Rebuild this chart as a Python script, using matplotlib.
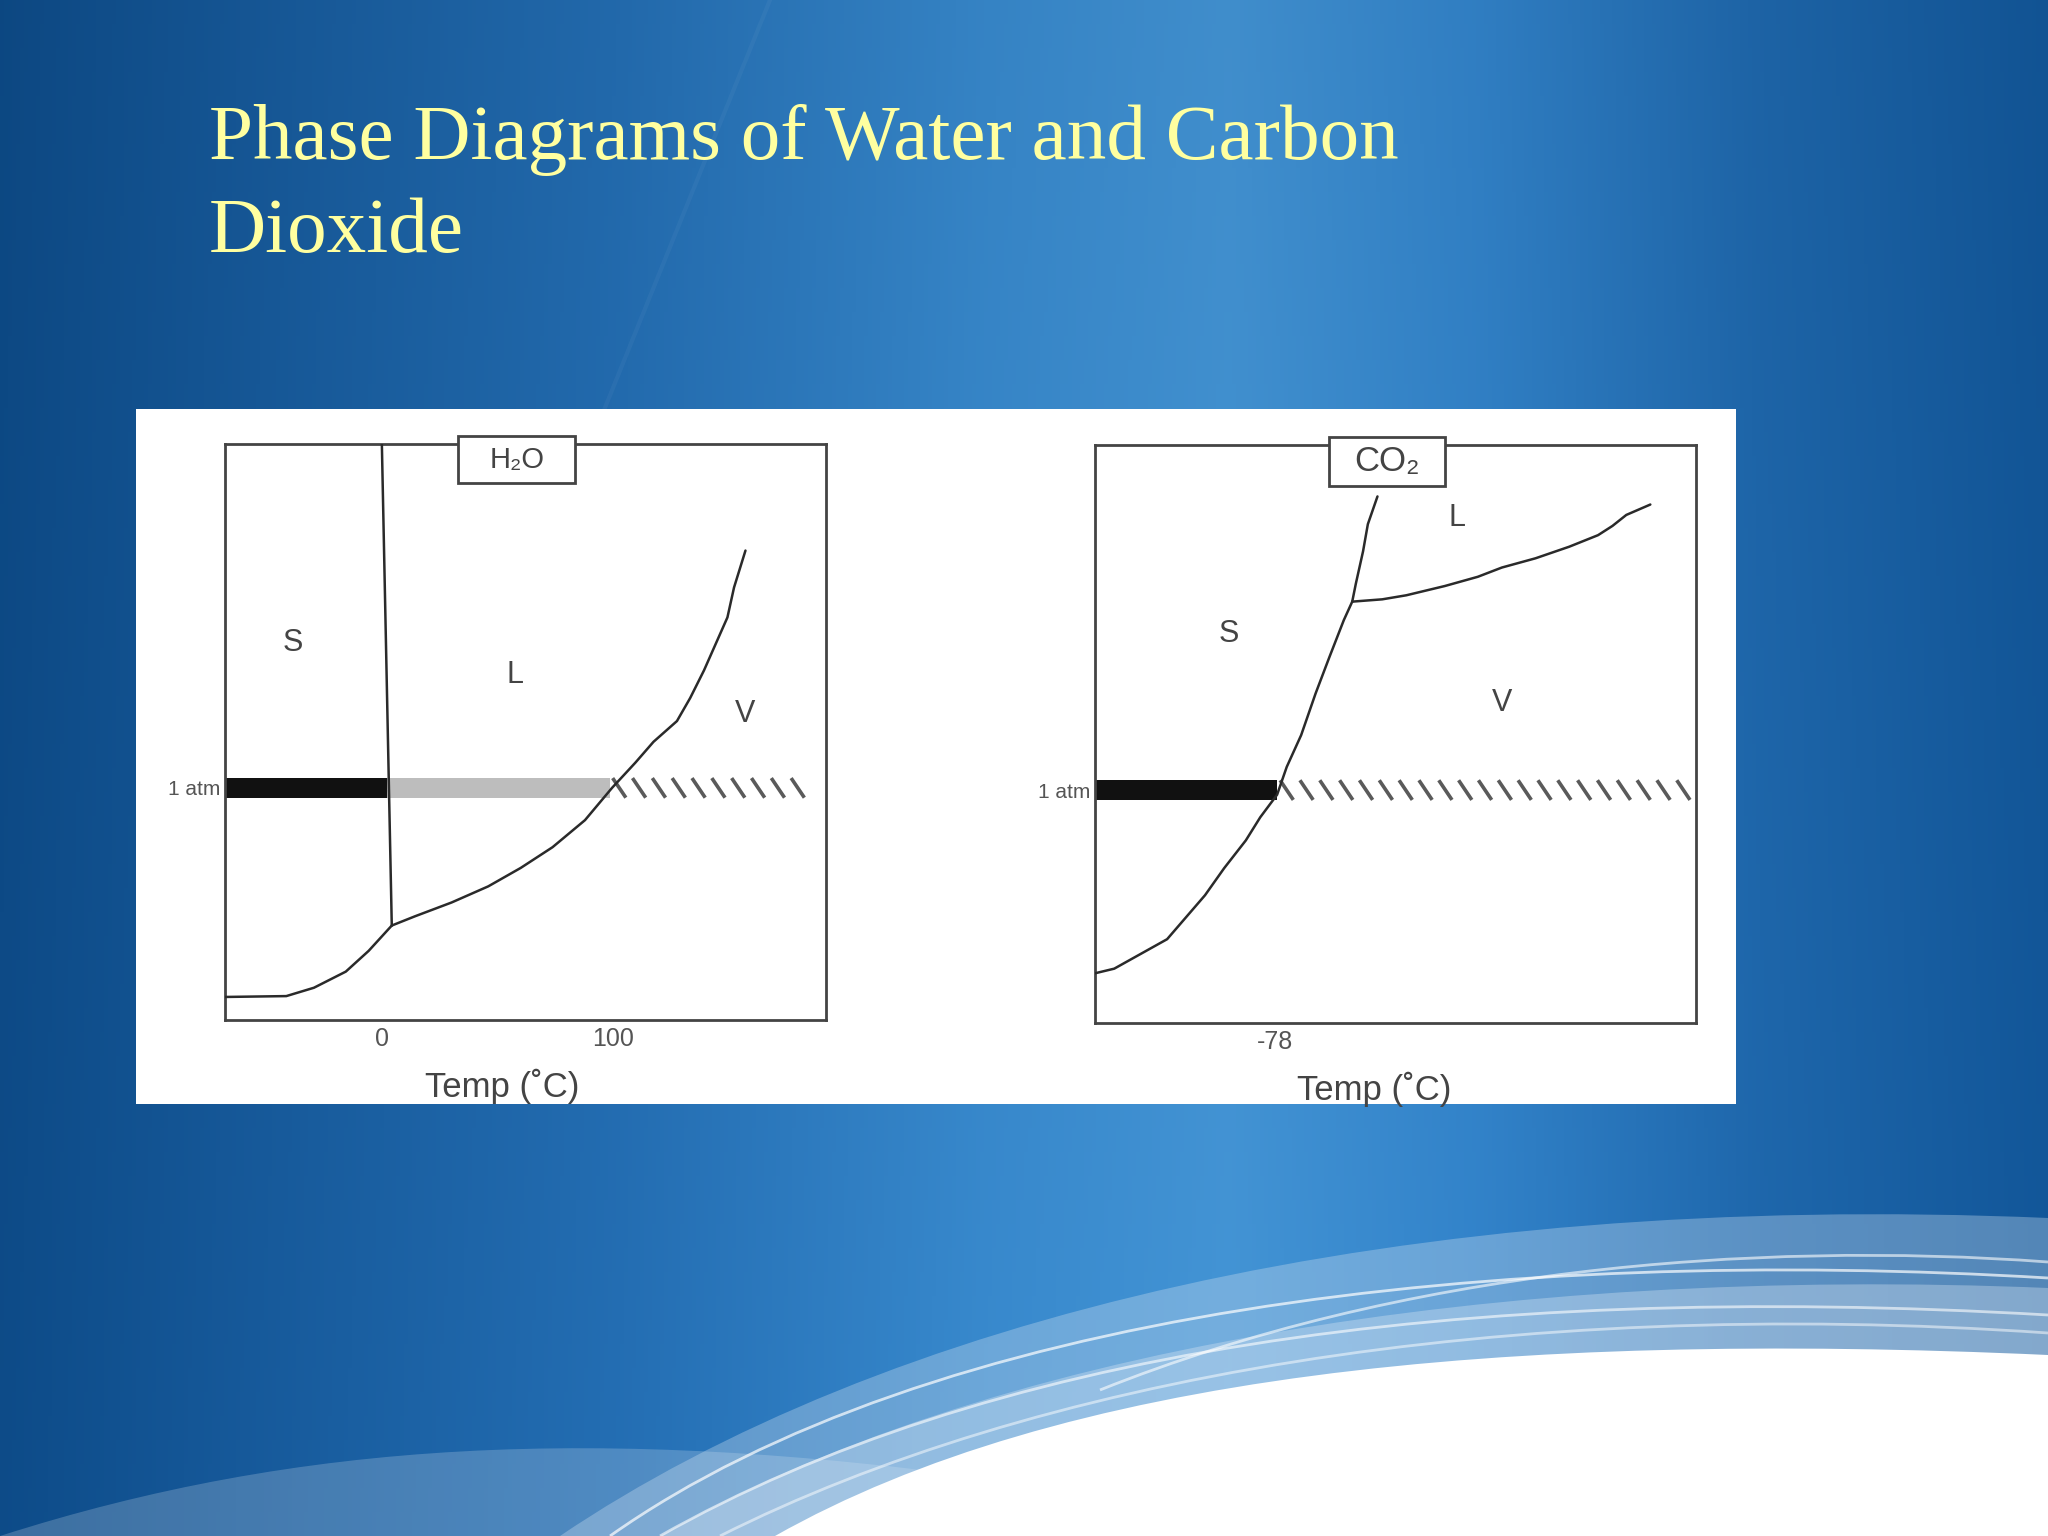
import numpy as np
import matplotlib
matplotlib.use("Agg")
import matplotlib.pyplot as plt
from matplotlib.patches import Rectangle, PathPatch
from matplotlib.path import Path
from matplotlib.collections import LineCollection

plt.rcParams['font.family'] = ['Liberation Sans', 'DejaVu Sans']

# ---------------- data (normalised diagram coordinates, 0..1) ----------------
title_lines = ["Phase Diagrams of Water and Carbon", "Dioxide"]

# H2O diagram
h2o_melt_x = [0.261, 0.2775]
h2o_melt_y = [1.0, 0.164]
h2o_subl_x = [0.0, 0.102, 0.148, 0.201, 0.239, 0.2775]
h2o_subl_y = [0.040, 0.0415, 0.056, 0.084, 0.120, 0.164]
h2o_vap_x = [0.2775, 0.316, 0.377, 0.438, 0.492, 0.545, 0.599, 0.644, 0.683,
             0.713, 0.752, 0.774, 0.797, 0.836, 0.847, 0.866]
h2o_vap_y = [0.164, 0.180, 0.204, 0.232, 0.264, 0.300, 0.347, 0.403, 0.447,
             0.483, 0.519, 0.559, 0.607, 0.699, 0.751, 0.815]
h2o_atm = 0.403
h2o_solid_seg = [0.0, 0.270]
h2o_liquid_seg = [0.270, 0.640]
h2o_vapor_seg = [0.640, 0.995]
h2o_labels = ["S", "L", "V"]
h2o_label_x = [0.113, 0.482, 0.866]
h2o_label_y = [0.655, 0.599, 0.531]
h2o_ticks = [0.261, 0.645]
h2o_ticklabels = ["0", "100"]

# CO2 diagram
co2_subl_x = [0.0, 0.032, 0.120, 0.183, 0.215, 0.251, 0.275, 0.303, 0.319,
              0.343, 0.367, 0.390, 0.414, 0.428]
co2_subl_y = [0.086, 0.094, 0.145, 0.221, 0.268, 0.316, 0.356, 0.395, 0.443,
              0.498, 0.570, 0.633, 0.697, 0.729]
co2_melt_x = [0.428, 0.434, 0.446, 0.454, 0.470]
co2_melt_y = [0.729, 0.760, 0.816, 0.863, 0.911]
co2_vap_x = [0.428, 0.478, 0.518, 0.582, 0.637, 0.677, 0.733, 0.789, 0.837,
             0.861, 0.884, 0.924]
co2_vap_y = [0.729, 0.733, 0.740, 0.756, 0.772, 0.788, 0.804, 0.824, 0.844,
             0.860, 0.879, 0.897]
co2_atm = 0.403
co2_solid_seg = [0.0, 0.303]
co2_vapor_seg = [0.303, 0.995]
co2_labels = ["S", "L", "V"]
co2_label_x = [0.223, 0.602, 0.677]
co2_label_y = [0.673, 0.873, 0.554]
co2_ticks = [0.299]
co2_ticklabels = ["-78"]

xlabel_text = "Temp (˚C)"
ylabel_ticks = ["1 atm"]

# ---------------- figure ----------------
W, H = 2048, 1536
fig = plt.figure(figsize=(W / 100, H / 100), dpi=100)

# background
bg = fig.add_axes([0, 0, 1, 1])
bg.set_xlim(0, W)
bg.set_ylim(H, 0)
bg.axis('off')
stops_x = [0.0, 0.12, 0.30, 0.48, 0.60, 0.72, 0.86, 1.0]
stops_c = np.array([(13, 74, 134), (22, 88, 152), (35, 108, 176), (55, 135, 202),
                    (66, 146, 210), (50, 130, 200), (30, 102, 170), (18, 86, 152)]) / 255
xs = np.linspace(0, 1, 512)
row = np.stack([np.interp(xs, stops_x, stops_c[:, k]) for k in range(3)], axis=-1)
ys = np.linspace(0, 1, 64)[:, None, None]
img = row[None, :, :] * (0.97 + 0.05 * ys)
bg.imshow(np.clip(img, 0, 1), extent=[0, W, H, 0], aspect='auto', zorder=0)

# faint diagonal streak
bg.plot([770, 600], [0, 420], color='white', alpha=0.04, lw=3, zorder=1)

def bez(p0, c1, c2, p1):
    return [p0, c1, c2, p1], [Path.MOVETO, Path.CURVE4, Path.CURVE4, Path.CURVE4]

def band(p0, c1, c2, p1, color, alpha):
    v, c = bez(p0, c1, c2, p1)
    v = v + [(W, H), (p0[0], H), p0]
    c = c + [Path.LINETO, Path.LINETO, Path.CLOSEPOLY]
    bg.add_patch(PathPatch(Path(v, c), facecolor=color, edgecolor='none', alpha=alpha, zorder=2))

band((0, H), (300, 1440), (600, 1425), (1000, 1480), 'white', 0.20)
band((560, H), (880, 1320), (1400, 1190), (W, 1218), '#cfe0f0', 0.35)
band((660, H), (980, 1350), (1500, 1265), (W, 1288), '#dde9f5', 0.35)
for (p0, c1, c2, p1, a) in [((610, H), (930, 1310), (1500, 1245), (W, 1278), 0.7),
                            ((660, H), (980, 1355), (1450, 1280), (W, 1315), 0.6),
                            ((720, H), (1030, 1380), (1500, 1295), (W, 1333), 0.5),
                            ((1100, 1390), (1400, 1270), (1750, 1240), (W, 1262), 0.6)]:
    v, c = bez(p0, c1, c2, p1)
    bg.add_patch(PathPatch(Path(v, c), facecolor='none', edgecolor='white', lw=2, alpha=a, zorder=3))
band((775, H), (1060, 1375), (1500, 1330), (W, 1355), 'white', 1.0)

# title
title_y = [159, 252]
for line, yb in zip(title_lines, title_y):
    fig.text(209 / W, 1 - yb / H, line, family='Liberation Serif', fontsize=57,
             color='#ffffa0', va='baseline', ha='left')

# white panel
fig.patches.append(Rectangle((136 / W, 1 - 1104 / H), 1600 / W, 695 / H,
                             transform=fig.transFigure, facecolor='white',
                             edgecolor='none', zorder=1))

ink = '#2a2a2a'

def setup(ax, ticks, ticklabels, atm, xlabel_x):
    ax.set_xlim(0, 1)
    ax.set_ylim(0, 1)
    ax.set_facecolor('white')
    for s in ax.spines.values():
        s.set_color('#444444')
        s.set_linewidth(2.0)
    ax.set_xticks(ticks)
    ax.set_xticklabels(ticklabels, fontsize=18, color='#555555')
    ax.set_yticks([atm])
    ax.set_yticklabels(ylabel_ticks, fontsize=15, color='#555555')
    ax.tick_params(axis='x', length=0, pad=5)
    ax.tick_params(axis='y', length=0, pad=3)
    ax.set_xlabel(xlabel_text, fontsize=25, color='#444444')
    ax.xaxis.set_label_coords(xlabel_x, -0.085)
    return ax

def hatch(ax, seg, atm):
    starts = np.arange(seg[0] + 0.005, seg[1] - 0.02, 0.033)
    segs = [[(x0, atm + 0.017), (x0 + 0.022, atm - 0.017)] for x0 in starts]
    ax.add_collection(LineCollection(segs, colors='#5a5a5a', linewidths=2.6, zorder=2))

def label_box(ax, x0, x1, y0, y1, text, fs):
    ax.add_patch(Rectangle((x0, y0), x1 - x0, y1 - y0, facecolor='white',
                           edgecolor='#444444', lw=2.0, clip_on=False, zorder=5))
    ax.text((x0 + x1) / 2, (y0 + y1) / 2, text, ha='center', va='center',
            fontsize=fs, color='#444444', zorder=6, clip_on=False)

# H2O axes
ax1 = fig.add_axes([225 / W, 1 - 1020 / H, 601 / W, 576 / H])
ax1.set_zorder(3)
setup(ax1, h2o_ticks, h2o_ticklabels, h2o_atm, 0.461)
ax1.barh(h2o_atm, h2o_solid_seg[1] - h2o_solid_seg[0], left=h2o_solid_seg[0],
         height=0.034, color='#111111', zorder=2)
ax1.barh(h2o_atm, h2o_liquid_seg[1] - h2o_liquid_seg[0], left=h2o_liquid_seg[0],
         height=0.034, color='#bdbdbd', zorder=1)
hatch(ax1, h2o_vapor_seg, h2o_atm)
for xx, yy in [(h2o_melt_x, h2o_melt_y), (h2o_subl_x, h2o_subl_y), (h2o_vap_x, h2o_vap_y)]:
    ax1.plot(xx, yy, color=ink, lw=1.8, zorder=3, solid_capstyle='round')
for t, x, y in zip(h2o_labels, h2o_label_x, h2o_label_y):
    ax1.text(x, y, t, ha='center', va='center', fontsize=22, color='#444444')
label_box(ax1, 0.388, 0.583, 0.932, 1.014, "H₂O", 21)

# CO2 axes
ax2 = fig.add_axes([1095 / W, 1 - 1023 / H, 601 / W, 578 / H])
ax2.set_zorder(3)
setup(ax2, co2_ticks, co2_ticklabels, co2_atm, 0.464)
ax2.barh(co2_atm, co2_solid_seg[1] - co2_solid_seg[0], left=co2_solid_seg[0],
         height=0.034, color='#111111', zorder=2)
hatch(ax2, co2_vapor_seg, co2_atm)
for xx, yy in [(co2_subl_x, co2_subl_y), (co2_melt_x, co2_melt_y), (co2_vap_x, co2_vap_y)]:
    ax2.plot(xx, yy, color=ink, lw=1.8, zorder=3, solid_capstyle='round')
for t, x, y in zip(co2_labels, co2_label_x, co2_label_y):
    ax2.text(x, y, t, ha='center', va='center', fontsize=22, color='#444444')
label_box(ax2, 0.389, 0.582, 0.929, 1.014, "CO₂", 25)

fig.savefig("out.png", dpi=100)
